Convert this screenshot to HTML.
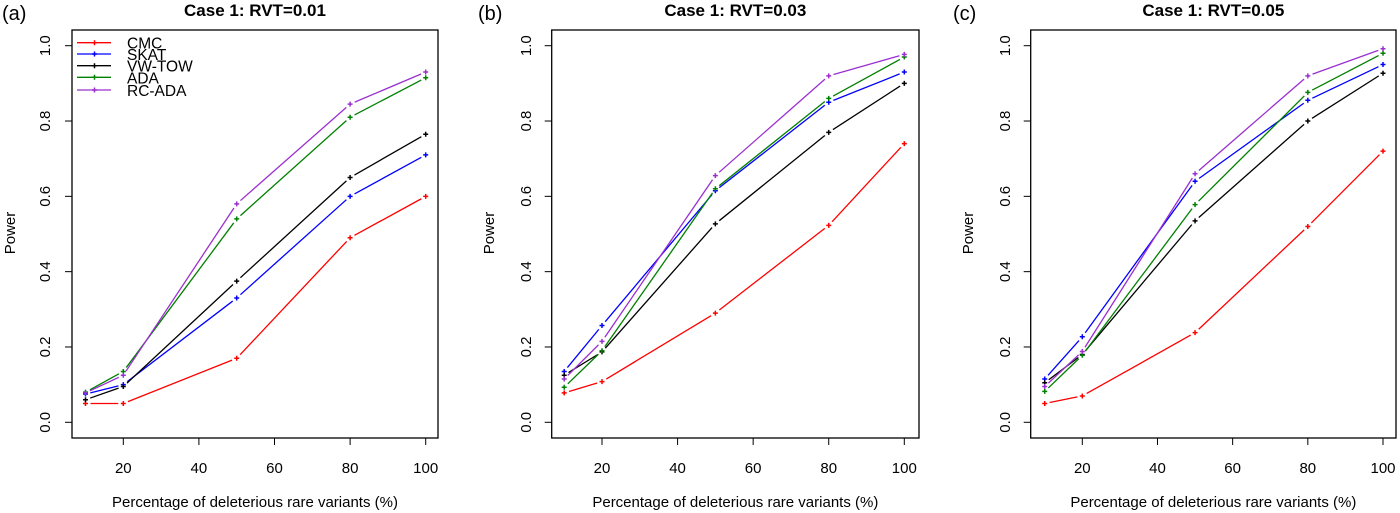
<!DOCTYPE html>
<html><head><meta charset="utf-8"><style>
body{margin:0;background:#fff}
svg{display:block;font-family:"Liberation Sans",Arial,sans-serif}
</style></head><body>
<svg id="chart" width="1400" height="513" viewBox="0 0 1400 513" xmlns="http://www.w3.org/2000/svg"></svg>
<script>
const xValues=[10,20,50,80,100];
const seriesNames=["CMC","SKAT","VW-TOW","ADA","RC-ADA"];
const seriesColors=["#ff0000","#0000ff","#000000","#008000","#9a30d0"];
const panelTitles=["Case 1: RVT=0.01","Case 1: RVT=0.03","Case 1: RVT=0.05"];
const panelLetters=["(a)","(b)","(c)"];
const xTicks=[20,40,60,80,100];
const yTicks=[0,0.2,0.4,0.6,0.8,1.0];
const yTickLabels=["0.0","0.2","0.4","0.6","0.8","1.0"];
const panelA=[[.05,.05,.17,.49,.60],[.075,.10,.33,.60,.71],[.06,.095,.375,.65,.765],[.08,.135,.54,.81,.915],[.078,.125,.58,.845,.93]];
const panelB=[[.078,.108,.29,.523,.74],[.135,.257,.615,.85,.93],[.125,.187,.527,.77,.90],[.093,.19,.62,.86,.97],[.115,.215,.655,.92,.977]];
const panelC=[[.05,.07,.238,.52,.72],[.115,.227,.64,.855,.95],[.105,.18,.535,.80,.927],[.082,.178,.578,.876,.98],[.095,.188,.66,.92,.992]];
const panelData=[panelA,panelB,panelC];

const NS="http://www.w3.org/2000/svg";
const svg=document.getElementById('chart');
function mk(tag,attrs,parent,text){const e=document.createElementNS(NS,tag);for(const k in attrs)e.setAttribute(k,attrs[k]);if(text!==undefined)e.textContent=text;(parent||svg).appendChild(e);return e;}
const layouts=[
 {bx0:72,bx1:438,x20:123.3,x100:425.7,tickLX:45,powX:10,letterX:2},
 {bx0:551.7,bx1:919,x20:602,x100:904.3,tickLX:526,powX:489,letterX:478},
 {bx0:1030.7,bx1:1396,x20:1082.3,x100:1383,tickLX:1005,powX:968,letterX:953}
];
const by0=30,by1=438,y0=422.3,y1=45.7;
layouts.forEach((L,p)=>{
 const g=mk('g',{});
 
 
 const xs=v=>L.x20+(v-20)*(L.x100-L.x20)/80;
 const ys=v=>y0+(y1-y0)*v;
 const cx=(L.bx0+L.bx1)/2;
 const t=mk('text',{x:cx,y:16,'text-anchor':'middle','font-size':17,'font-weight':'bold'},g,panelTitles[p]);
 
 const lt=mk('text',{x:L.letterX,y:20,'font-size':20},g,panelLetters[p]);
 
 const box=mk('rect',{x:L.bx0,y:by0,width:L.bx1-L.bx0,height:by1-by0,fill:'none',stroke:'#000','stroke-width':1.3},g);
 
 mk('line',{x1:xs(xTicks[0]),x2:xs(xTicks[xTicks.length-1]),y1:by1,y2:by1,stroke:'#000'},g);
 xTicks.forEach(v=>{
  mk('line',{x1:xs(v),x2:xs(v),y1:by1,y2:by1+7,stroke:'#000'},g);
  const tl=mk('text',{x:xs(v),y:473,'text-anchor':'middle','font-size':15},g,String(v));
  
 });
 yTicks.forEach((v,i)=>{
  mk('line',{x1:L.bx0,x2:L.bx0-7,y1:ys(v),y2:ys(v),stroke:'#000'},g);
  const tl=mk('text',{x:L.tickLX,y:ys(v),'text-anchor':'middle','font-size':15,transform:`rotate(-90 ${L.tickLX} ${ys(v)})`,dy:5},g,yTickLabels[i]);
  
 });
 const yt=mk('text',{x:L.powX,y:233,'text-anchor':'middle','font-size':15,dy:5,transform:`rotate(-90 ${L.powX} 233)`},g,'Power');
 
 const xt=mk('text',{x:cx,y:507,'text-anchor':'middle','font-size':15},g,'Percentage of deleterious rare variants (%)');
 
 panelData[p].forEach((vals,s)=>{
  const sg=mk('g',{},g);
  
  
  const pts=vals.map((v,i)=>[xs(xValues[i]),ys(v)]);
  for(let i=0;i<pts.length-1;i++){
   const [ax,ay]=pts[i],[bx,byy]=pts[i+1];
   const d=Math.hypot(bx-ax,byy-ay),g0=5;
   if(d>2*g0){const ux=(bx-ax)/d,uy=(byy-ay)/d;
    mk('line',{x1:ax+ux*g0,y1:ay+uy*g0,x2:bx-ux*g0,y2:byy-uy*g0,stroke:seriesColors[s],'stroke-width':1.3},sg);}
  }
  pts.forEach(([x,y])=>{
   const m=mk('path',{d:`M${x-2.5},${y}H${x+2.5}M${x},${y-2.5}V${y+2.5}`,stroke:seriesColors[s],'stroke-width':1.5},sg);
   
  });
 });
 if(p===0){
  const lg=mk('g',{},g);
  
  const rows=[42.7,54,65.7,77.3,90];
  seriesNames.forEach((n,s)=>{
   const e=mk('g',{},lg);
   
   mk('line',{x1:77,x2:111,y1:rows[s],y2:rows[s],stroke:seriesColors[s],'stroke-width':1.3},e);
   mk('path',{d:`M92,${rows[s]}h5M94.5,${rows[s]-2.5}v5`,stroke:seriesColors[s],'stroke-width':1.5},e);
   mk('text',{x:127,y:rows[s]+6,'font-size':15.5},e,n);
  });
 }
});
</script>
</body></html>
